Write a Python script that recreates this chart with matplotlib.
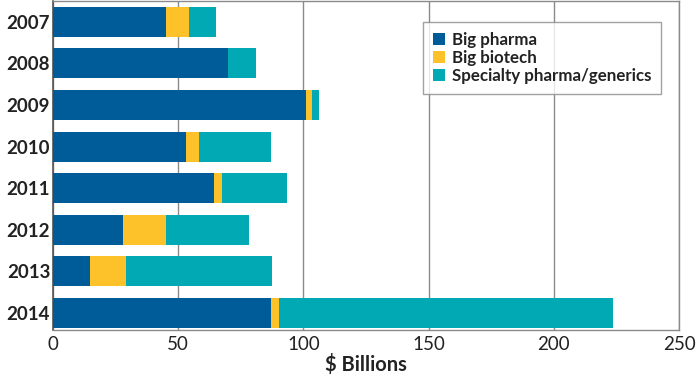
import matplotlib

matplotlib.use("Agg")

import matplotlib.pyplot as plt
import numpy as np

# Deal value by acquirer type, $ billions
YEARS = ["2007", "2008", "2009", "2010", "2011", "2012", "2013", "2014"]
BIG_PHARMA = [45.0, 70.0, 101.0, 53.0, 64.3, 28.1, 14.7, 87.2]
BIG_BIOTECH = [9.2, 0.0, 2.4, 5.2, 3.0, 17.0, 14.6, 3.1]
SPECIALTY = [10.8, 11.1, 2.9, 29.0, 26.0, 33.2, 58.2, 133.3]

SERIES_LABELS = ["Big pharma", "Big biotech", "Specialty pharma/generics"]
COLORS = ["#005B99", "#FDC12A", "#00A9B4"]
X_TICKS = [0, 50, 100, 150, 200, 250]

plt.rcParams["font.family"] = ["Lato", "DejaVu Sans"]

fig = plt.figure(figsize=(7.0, 3.76), dpi=100)
ax = fig.add_axes([53 / 700, 1 - 330 / 376, 626 / 700, 329 / 376])

y = np.arange(len(YEARS))
left = np.zeros(len(YEARS))
for values, label, color in zip([BIG_PHARMA, BIG_BIOTECH, SPECIALTY], SERIES_LABELS, COLORS):
    ax.barh(y, values, left=left, height=0.72, color=color, label=label, zorder=3)
    left += np.asarray(values)

ax.set_xlim(0, 250)
ax.set_ylim(len(YEARS) - 0.59, -0.5)
ax.set_xticks(X_TICKS)
ax.set_xticklabels([str(t) for t in X_TICKS], fontsize=13.5, color="#222222")
ax.set_yticks(y)
ax.set_yticklabels(YEARS, fontsize=13.5, fontweight="bold", color="#222222")
ax.tick_params(axis="y", length=0, pad=2)
ax.tick_params(axis="x", length=0, pad=4)
ax.grid(True, axis="x", color="#8a8a8a", linewidth=1.0, zorder=0)

for side in ["top", "right", "bottom"]:
    ax.spines[side].set_color("#8a8a8a")
    ax.spines[side].set_linewidth(1.0)
ax.spines["left"].set_color("#555555")
ax.spines["left"].set_linewidth(1.2)

ax.set_xlabel("$ Billions", fontsize=14.5, fontweight="bold", color="#222222", labelpad=1)

leg = ax.legend(
    loc="upper left",
    bbox_to_anchor=((423 - 53) / 626, 1 - 21 / 329),
    borderaxespad=0,
    frameon=True,
    fancybox=False,
    edgecolor="#8a8a8a",
    handlelength=0.7,
    handleheight=0.7,
    handletextpad=0.4,
    labelspacing=0.12,
    borderpad=0.6,
    prop={"size": 12.2, "weight": "bold"},
)
leg.get_frame().set_linewidth(1.0)
leg.set_zorder(5)
for text in leg.get_texts():
    text.set_color("#222222")

fig.savefig("out.png", dpi=100, facecolor="white")
